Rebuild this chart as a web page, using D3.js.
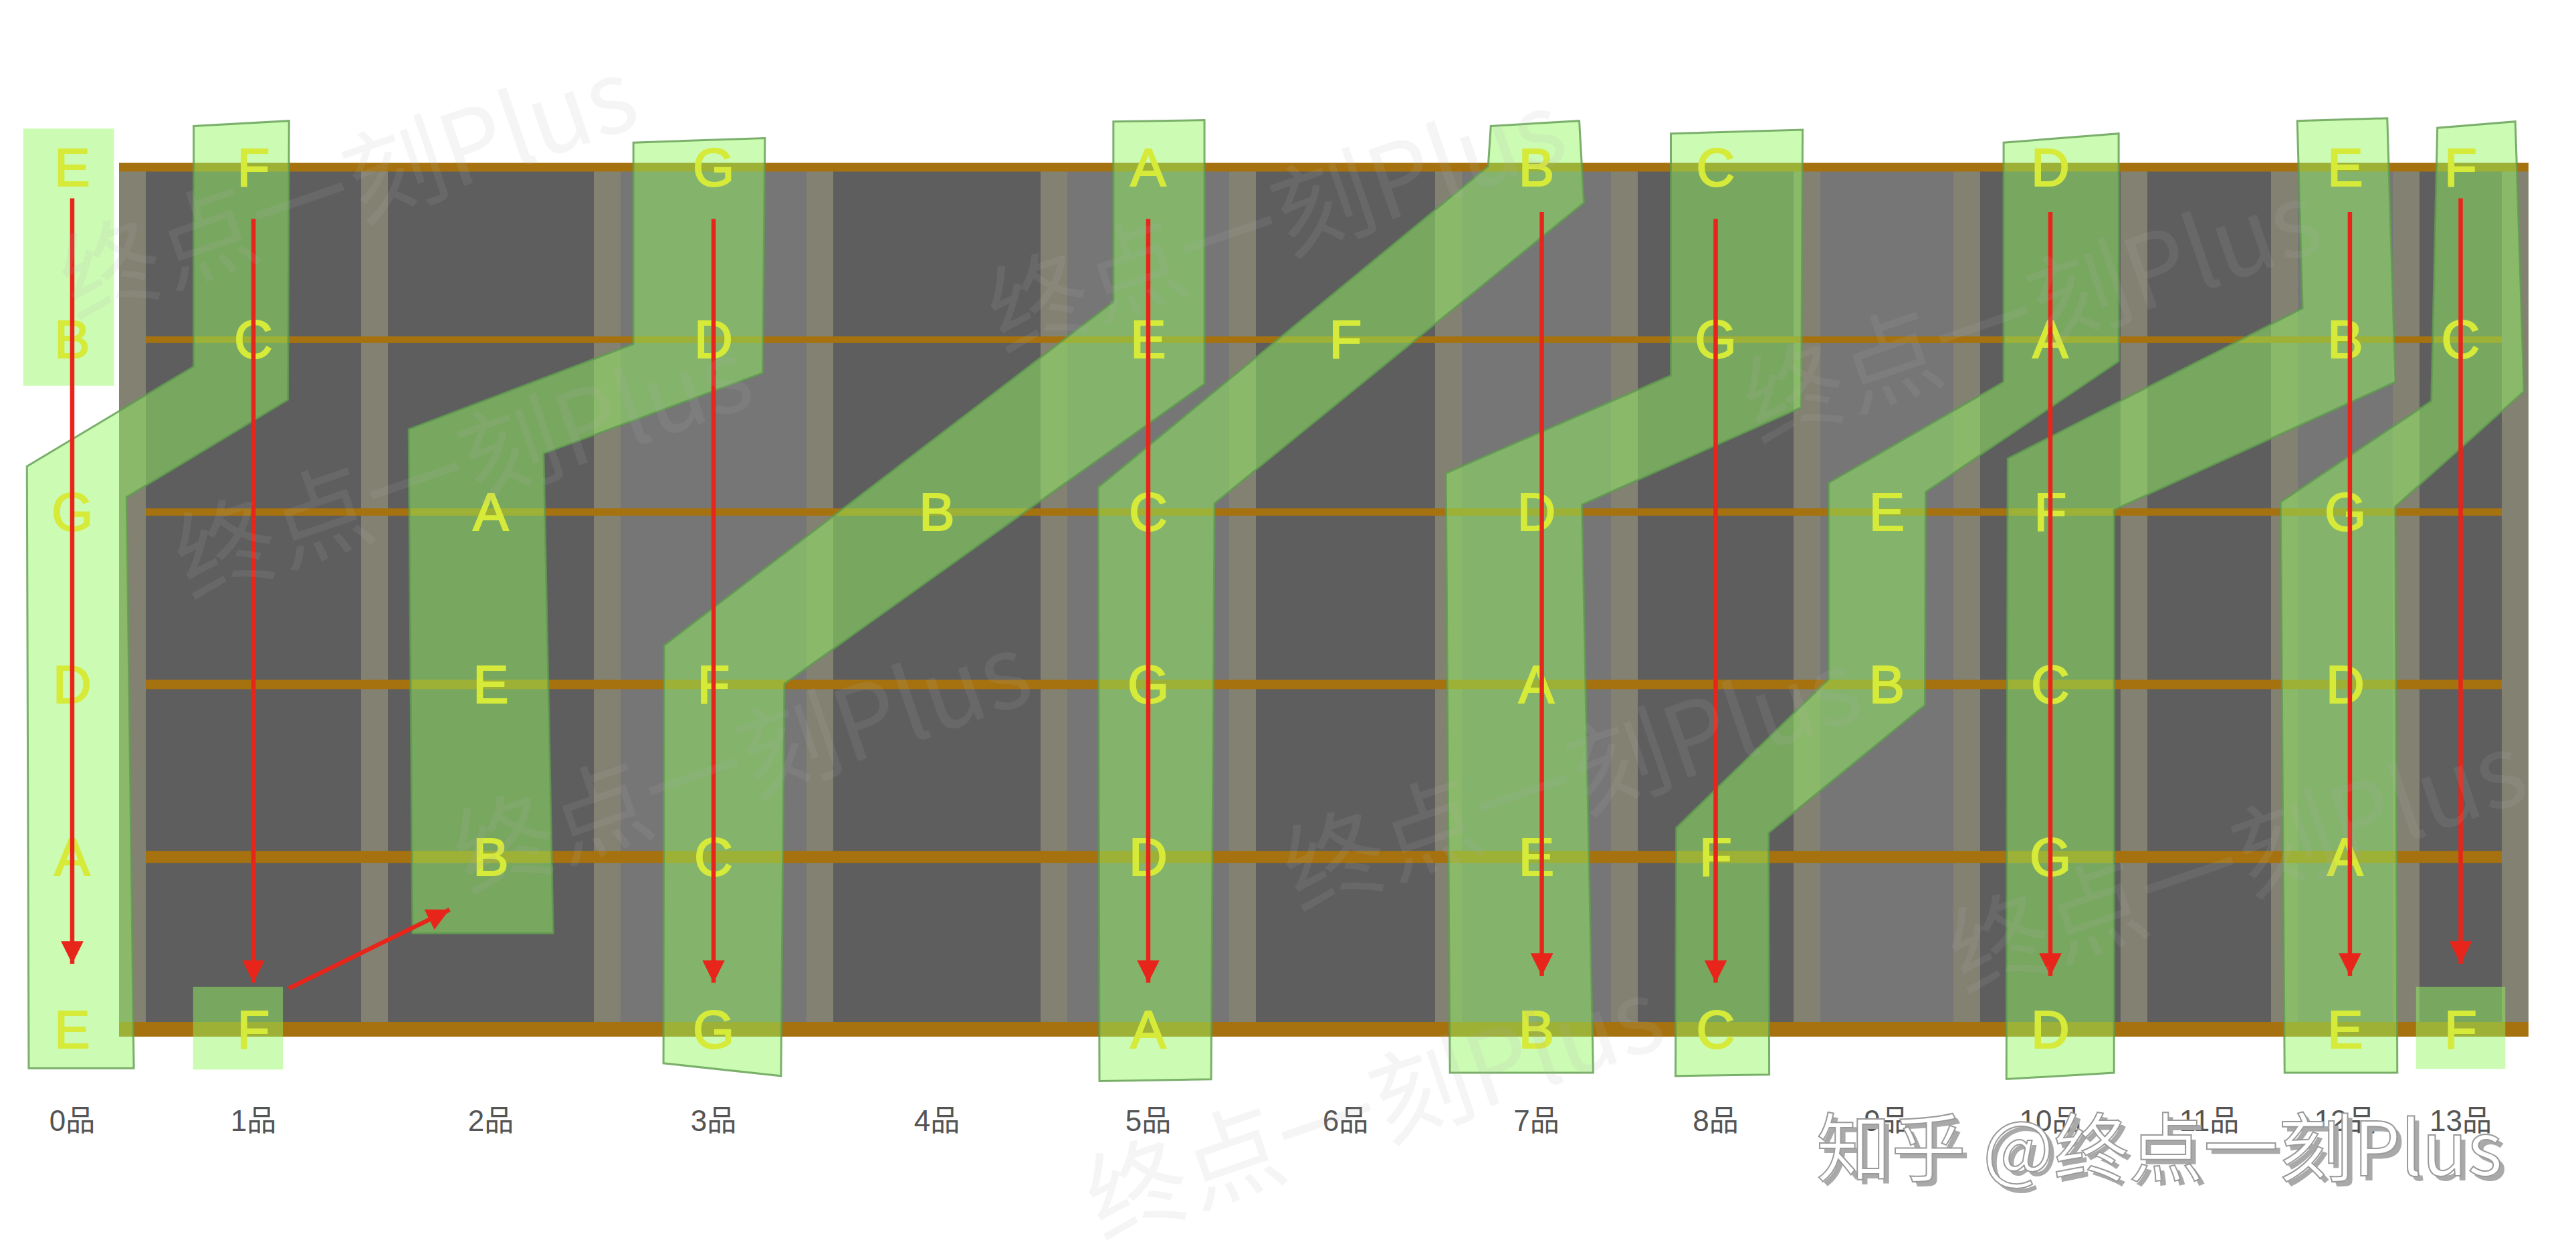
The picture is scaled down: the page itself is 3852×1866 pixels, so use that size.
<!DOCTYPE html>
<html><head><meta charset="utf-8">
<script src="https://cdn.jsdelivr.net/npm/d3@7/dist/d3.min.js"></script>
<style>html,body{margin:0;padding:0;background:#fff;overflow:hidden}</style>
</head><body>
<svg id="c" width="3852" height="1866"></svg>
<script>
// ---------- data ----------
const stringNames = ["E","B","G","D","A","E"];
const fretLabels = ["0品","1品","2品","3品","4品","5品","6品","7品","8品","9品","10品","11品","12品","13品"];
const notesE1 = [[0,"E"],[1,"F"],[3,"G"],[5,"A"],[7,"B"],[8,"C"],[10,"D"],[12,"E"],[13,"F"]];
const notesB  = [[0,"B"],[1,"C"],[3,"D"],[5,"E"],[6,"F"],[8,"G"],[10,"A"],[12,"B"],[13,"C"]];
const notesG  = [[0,"G"],[2,"A"],[4,"B"],[5,"C"],[7,"D"],[9,"E"],[10,"F"],[12,"G"]];
const notesD  = [[0,"D"],[2,"E"],[3,"F"],[5,"G"],[7,"A"],[9,"B"],[10,"C"],[12,"D"]];
const notesA  = [[0,"A"],[2,"B"],[3,"C"],[5,"D"],[7,"E"],[8,"F"],[10,"G"],[12,"A"]];
const notesE6 = [[0,"E"],[1,"F"],[3,"G"],[5,"A"],[7,"B"],[8,"C"],[10,"D"],[12,"E"],[13,"F"]];
const noteRows = [notesE1, notesB, notesG, notesD, notesA, notesE6];
const inlayFrets = [3,5,7,9,12];
// shapes in [fret units, string units]
const shapes = [
  {stroke:false, pts:[[-0.27,-0.224],[0.23,-0.224],[0.23,1.267],[-0.27,1.267]]},
  {stroke:true, pts:[[-0.25,1.735],[0.67,1.156],[0.67,-0.239],[1.15,-0.269],[1.145,1.349],[0.30,1.913],[0.34,5.226],[-0.24,5.226]]},
  {stroke:false, pts:[[0.667,4.755],[1.124,4.755],[1.124,5.234],[0.667,5.234]]},
  {stroke:true, pts:[[1.654,1.52],[2.64,1.026],[2.64,-0.143],[3.23,-0.169],[3.22,1.193],[2.237,1.66],[2.28,4.443],[1.67,4.443]]},
  {stroke:true, pts:[[2.775,5.197],[2.778,2.774],[4.835,0.781],[4.835,-0.265],[5.285,-0.273],[5.285,1.256],[3.317,2.996],[3.302,5.271]]},
  {stroke:true, pts:[[4.763,1.857],[6.747,-0.005],[6.761,-0.239],[7.239,-0.269],[7.265,0.206],[5.336,1.95],[5.319,5.29],[4.769,5.301]]},
  {stroke:true, pts:[[6.526,1.775],[7.75,1.208],[7.75,-0.195],[8.508,-0.217],[8.5,1.393],[7.254,1.957],[7.317,5.252],[6.547,5.252]]},
  {stroke:true, pts:[[7.776,5.271],[7.78,3.831],[8.66,2.97],[8.66,1.831],[9.714,1.245],[9.714,-0.143],[10.43,-0.195],[10.43,1.126],[9.237,1.883],[9.233,3.119],[8.309,3.861],[8.313,5.263]]},
  {stroke:true, pts:[[9.739,1.69],[11.686,0.818],[11.647,-0.269],[12.364,-0.284],[12.434,1.245],[10.401,1.987],[10.401,5.252],[9.731,5.289]]},
  {stroke:true, pts:[[11.525,1.942],[12.746,1.356],[12.798,-0.228],[13.474,-0.265],[13.549,1.3],[12.434,1.968],[12.451,5.252],[11.554,5.252]]},
  {stroke:false, pts:[[12.613,4.755],[13.387,4.755],[13.387,5.23],[12.613,5.23]]}
];
const arrows = [
  {x1:0,y1:0.18,x2:0,y2:4.62},{x1:1,y1:0.30,x2:1,y2:4.73},{x1:3,y1:0.30,x2:3,y2:4.73},
  {x1:5,y1:0.30,x2:5,y2:4.73},{x1:7.03,y1:0.26,x2:7.03,y2:4.69},{x1:8,y1:0.30,x2:8,y2:4.73},
  {x1:10,y1:0.26,x2:10,y2:4.69},{x1:12.04,y1:0.26,x2:12.04,y2:4.69},{x1:13,y1:0.18,x2:13,y2:4.62},
  {x1:1.149,y1:4.763,x2:1.826,y2:4.306}
];
const watermark = "终点一刻Plus";
const watermarkSpots = [[516,270],[688,688],[1904,320],[1105,1130],[3034,455],[2346,1155],[2051,1646],[3341,1278]];
const credit = "知乎 @终点一刻Plus";

// ---------- layout ----------
const wires = [198,560,908,1226,1576,1858,2166,2429,2702,2941,3191,3416,3598,3761];
const wireW = 40;
const centers = [108].concat(d3.range(1,14).map(k => (wires[k-1]+wires[k])/2));
const x = d3.scaleLinear().domain(d3.range(14)).range(centers);
const y = d3.scaleLinear().domain([0,5]).range([250,1539]);
const svg = d3.select("#c");
const boardL = wires[0]-wireW/2, boardR = wires[13]+wireW/2;

// board
svg.append("rect").attr("x",boardL).attr("y",y(0)).attr("width",boardR-boardL).attr("height",y(5)-y(0)).attr("fill","#5e5e5e");
svg.selectAll("rect.inlay").data(inlayFrets).join("rect").attr("class","inlay")
  .attr("x",d=>wires[d-1]).attr("width",d=>wires[d]-wires[d-1]).attr("y",y(0)).attr("height",y(5)-y(0)).attr("fill","#767676");
svg.selectAll("rect.wire").data(wires).join("rect").attr("class","wire")
  .attr("x",d=>d-wireW/2).attr("width",wireW).attr("y",y(0)).attr("height",y(5)-y(0)).attr("fill","#838172");
const sw = [13,10,11,14,18,22];
svg.selectAll("rect.str").data(stringNames).join("rect").attr("class","str")
  .attr("x",(d,i)=> (i===0||i===5)? boardL : wires[0]+wireW/2)
  .attr("width",(d,i)=> (i===0||i===5)? boardR-boardL : (wires[13]-wireW/2)-(wires[0]+wireW/2))
  .attr("y",(d,i)=>y(i)-sw[i]/2).attr("height",(d,i)=>sw[i]).attr("fill","#a6720f");

// shapes
const line = d3.line().x(p=>x(p[0])).y(p=>y(p[1]));
svg.selectAll("path.shape").data(shapes).join("path").attr("class","shape")
  .attr("d",d=>line(d.pts)+"Z").attr("fill","rgba(148,247,98,0.48)")
  .attr("stroke",d=>d.stroke?"#5f9c4f":"none").attr("stroke-width",3).attr("stroke-opacity",0.8);

// notes
const notes = noteRows.flatMap((row,si)=>row.map(([f,n])=>({f,n,si})));
svg.selectAll("text.note").data(notes).join("text").attr("class","note")
  .attr("x",d=>x(d.f)).attr("y",d=>y(d.si)).attr("text-anchor","middle").attr("dominant-baseline","central")
  .attr("font-family","Liberation Sans, Arial, sans-serif").attr("font-size",80)
  .attr("fill","#d6ea3a").attr("stroke","#d6ea3a").attr("stroke-width",2).text(d=>d.n);

// arrows
const defs = svg.append("defs");
defs.append("marker").attr("id","ah").attr("viewBox","0 0 10 10").attr("refX",10).attr("refY",5)
  .attr("markerWidth",5.2).attr("markerHeight",5.2).attr("markerUnits","strokeWidth").attr("orient","auto")
  .append("path").attr("d","M0,0L10,5L0,10Z").attr("fill","#e8251a");
svg.selectAll("line.arr").data(arrows).join("line").attr("class","arr")
  .attr("x1",d=>x(d.x1)).attr("y1",d=>y(d.y1)).attr("x2",d=>x(d.x2)).attr("y2",d=>y(d.y2))
  .attr("stroke","#e8251a").attr("stroke-width",6.5).attr("marker-end","url(#ah)");

// fret labels
svg.selectAll("text.fl").data(fretLabels).join("text").attr("class","fl")
  .attr("x",(d,i)=>x(i)).attr("y",1675).attr("text-anchor","middle").attr("dominant-baseline","central")
  .attr("font-family","Liberation Sans, Noto Sans CJK SC, sans-serif").attr("font-size",44).attr("fill","#555").text(d=>d);

// watermarks
svg.selectAll("text.wm").data(watermarkSpots).join("text").attr("class","wm")
  .attr("transform",d=>`translate(${d[0]},${d[1]}) rotate(-19)`).attr("text-anchor","middle").attr("dominant-baseline","central")
  .attr("font-family","Noto Sans CJK SC, sans-serif").attr("font-size",150)
  .attr("fill","rgba(176,176,176,0.13)").text(watermark);

// credit
const cg = svg.append("g").attr("font-family","Noto Sans CJK SC, sans-serif").attr("font-size",112);
cg.append("text").attr("x",3236).attr("y",1716).attr("text-anchor","middle").attr("dominant-baseline","central")
  .attr("fill","#a9a9a9").text(credit);
cg.append("text").attr("x",3229).attr("y",1709).attr("text-anchor","middle").attr("dominant-baseline","central")
  .attr("fill","#ffffff").attr("stroke","#9a9a9a").attr("stroke-width",2).text(credit);
</script>
</body></html>
